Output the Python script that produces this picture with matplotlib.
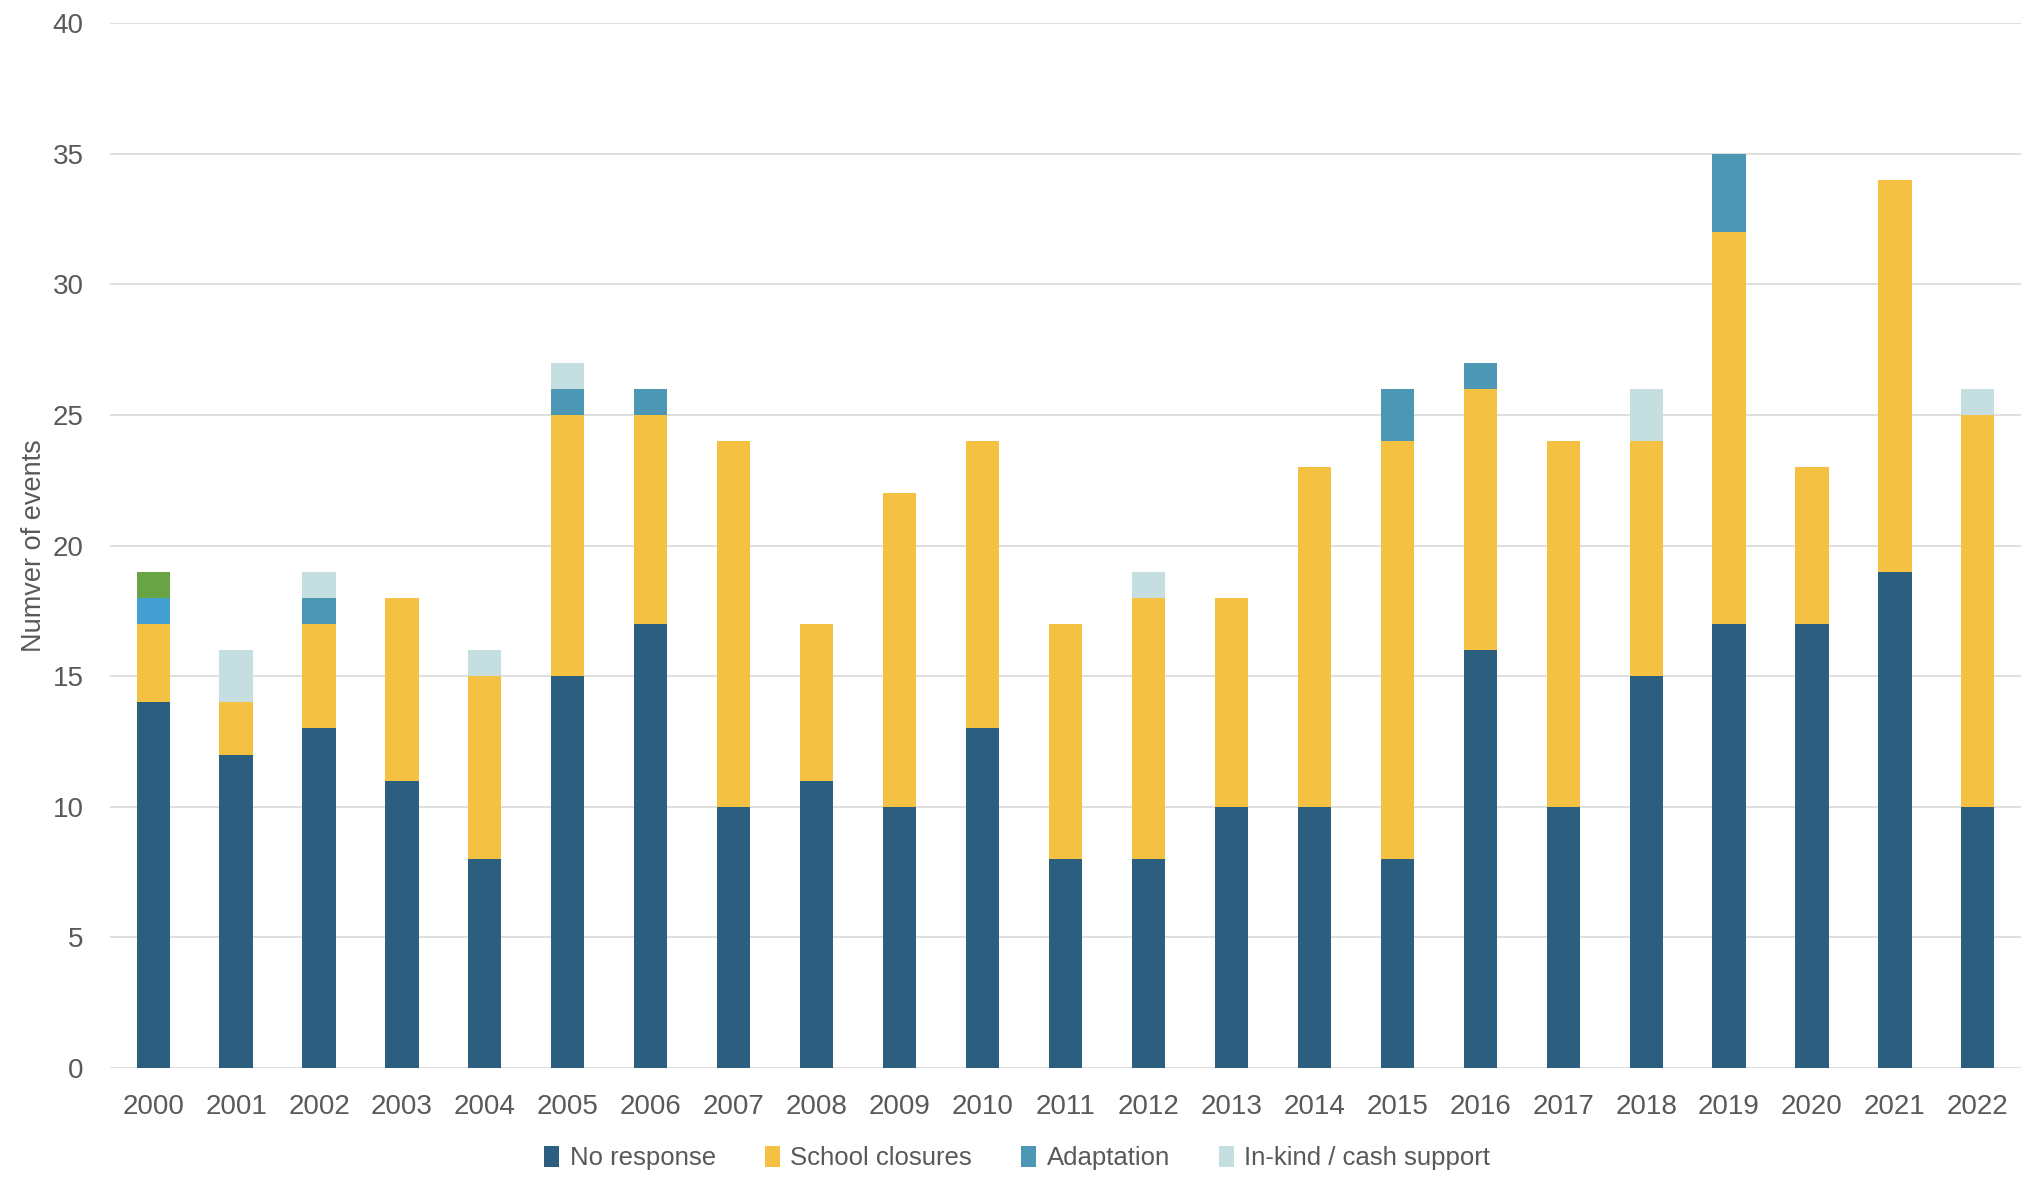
import matplotlib
matplotlib.use("Agg")
import matplotlib.pyplot as plt
import numpy as np

years = [str(y) for y in range(2000, 2023)]
no_response = [14, 12, 13, 11, 8, 15, 17, 10, 11, 10, 13, 8, 8, 10, 10, 8, 16, 10, 15, 17, 17, 19, 10]
school_closures = [3, 2, 4, 7, 7, 10, 8, 14, 6, 12, 11, 9, 10, 8, 13, 16, 10, 14, 9, 15, 6, 15, 15]
adaptation = [0, 0, 1, 0, 0, 1, 1, 0, 0, 0, 0, 0, 0, 0, 0, 2, 1, 0, 0, 3, 0, 0, 0]
inkind_cash = [0, 2, 1, 0, 1, 1, 0, 0, 0, 0, 0, 0, 1, 0, 0, 0, 0, 0, 2, 0, 0, 0, 1]
other_blue = [1] + [0] * 22
other_green = [1] + [0] * 22

series = [
    ("No response", no_response, "#2C5F7F", True),
    ("School closures", school_closures, "#F5C142", True),
    ("Adaptation", adaptation, "#4C98B4", True),
    ("In-kind / cash support", inkind_cash, "#C5DFE0", True),
    ("Other 1", other_blue, "#449FD3", False),
    ("Other 2", other_green, "#68A443", False),
]

plt.rcParams['font.family'] = ['Liberation Sans', 'DejaVu Sans']
fig = plt.figure(figsize=(20.34, 11.8), dpi=100)
ax = fig.add_axes([110/2034, 1 - 1068/1180, (2021-110)/2034, (1068-23)/1180])

x = np.arange(len(years))
bottom = np.zeros(len(years))
for name, vals, color, show in series:
    v = np.array(vals, dtype=float)
    ax.bar(x, v, width=0.4, bottom=bottom, color=color,
           label=name if show else "_nolegend_", zorder=3)
    bottom += v

ax.set_xlim(-0.52, len(years) - 0.48)
ax.set_ylim(0, 40)
ax.set_yticks(range(0, 41, 5))
ax.set_xticks(x)
ax.set_xticklabels(years)
ax.grid(axis='y', color='#D9D9D9', linewidth=1.2, zorder=0)
for s in ax.spines.values():
    s.set_visible(False)
ax.tick_params(axis='both', length=0, labelsize=20, colors='#595959')
ax.tick_params(axis='x', pad=19)
ax.tick_params(axis='y', pad=19)

ax.set_ylabel("Numver of events", fontsize=19.5, color='#595959')
ax.yaxis.set_label_coords(-0.033, 0.5)

leg = fig.legend(loc='center', bbox_to_anchor=(0.5, 1 - 1158/1180), ncol=4, frameon=False,
                 handlelength=0.6, handleheight=0.9, handletextpad=0.4,
                 columnspacing=1.9,
                 prop={'size': 18.5})
for t in leg.get_texts():
    t.set_color('#595959')

fig.savefig("out.png", dpi=100)
